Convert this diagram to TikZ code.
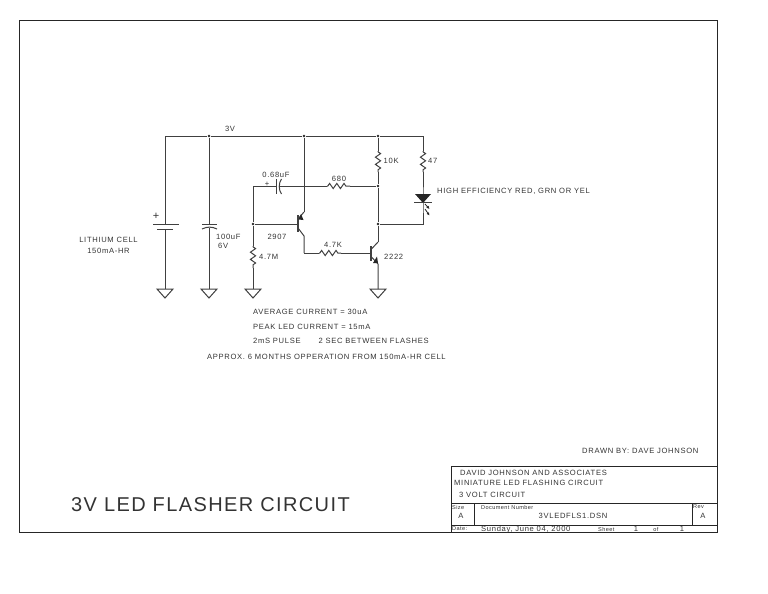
\documentclass[tikz,border=0pt]{standalone}
\usepackage{fontspec}
\setmainfont{Liberation Sans}[LetterSpace=9]
\newfontfamily\titlefont{Liberation Sans}[LetterSpace=7]
\usetikzlibrary{decorations.pathmorphing,arrows.meta}

\tikzset{
  wire/.style={line width=1pt,draw=black!75},
  res/.style={wire,decorate,decoration={zigzag,segment length=7.2pt,amplitude=2.6pt,pre length=0.8pt,post length=0.8pt}},
  lab/.style={inner sep=0pt,font=\fontsize{7.6}{8}\selectfont,text=black!80},
  tiny/.style={inner sep=0pt,font=\titlefont\fontsize{5.6}{6}\selectfont,text=black!80},
  dot/.style={circle,fill=black!85,inner sep=0pt,minimum size=2.8pt},
  frame/.style={line width=0.9pt,draw=black!85},
  gnd/.pic={\draw[wire] (-8,0) -- (8,0) -- (0,9) -- cycle;}
}

\begin{document}
\begin{tikzpicture}[x=1pt,y=-1pt]
  \useasboundingbox (0,0) rectangle (768,594);

  % sheet and title block
  \draw[frame] (19,20) rectangle (717,532);
  \draw[frame] (451,532) -- (451,466) -- (717,466);
  \draw[frame] (451,503) -- (717,503);
  \draw[frame] (451,525.5) -- (717,525.5);
  \draw[frame] (474,503) -- (474,525.5);
  \draw[frame] (692,503) -- (692,525.5);

  % rail and junctions
  \coordinate (batt) at (165,136);
  \node[dot] (jcap) at (209,136) {};
  \node[dot] (jemit) at (304,136) {};
  \node[dot] (jcoll) at (378,136) {};
  \coordinate (rail) at (423,136);
  \draw[wire] (batt) -- (jcap) -- (jemit) -- (jcoll) -- (rail);

  % battery
  \coordinate (battp) at (165,224);
  \coordinate (battn) at (165,229);
  \coordinate (gnda) at (165,289);
  \draw[wire] (batt) -- (battp);
  \draw[wire] (battn) -- (gnda);
  \draw[wire] (153,224) -- (179,224);
  \draw[wire] (157,229) -- (173,229);
  \pic at (gnda) {gnd};

  % 100uF
  \coordinate (capp) at (209,224);
  \coordinate (capn) at (209,228);
  \coordinate (gndb) at (209,289);
  \draw[wire] (jcap) -- (capp);
  \draw[wire] (capn) -- (gndb);
  \draw[wire] (202,224) -- (217,224);
  \draw[wire] (202,229) .. controls (207,226.5) and (212,226.5) .. (217,229);
  \pic at (gndb) {gnd};

  % 2907 base, 4.7M
  \node[dot] (jbase) at (253,224) {};
  \coordinate (cfb) at (253,186);
  \coordinate (rbt) at (253,246);
  \coordinate (rbb) at (253,268);
  \coordinate (gndc) at (253,289);
  \coordinate (base) at (298,224);
  \draw[wire] (jbase) -- (base);
  \draw[wire] (cfb) -- (jbase) -- (rbt);
  \draw[res] (rbt) -- (rbb);
  \draw[wire] (rbb) -- (gndc);
  \pic at (gndc) {gnd};

  % 0.68uF and 680
  \coordinate (cfa) at (276,186);
  \coordinate (cfc) at (279.5,186);
  \coordinate (rfa) at (327,186);
  \coordinate (rfb) at (350,186);
  \node[dot] (jfb) at (378,186) {};
  \draw[wire] (cfb) -- (cfa);
  \draw[wire] (276,179) -- (276,194);
  \draw[wire] (281.5,179) .. controls (278.5,183) and (278.5,190) .. (281.5,194);
  \draw[wire] (cfc) -- (rfa);
  \draw[res] (rfa) -- (rfb);
  \draw[wire] (rfb) -- (jfb);

  % 2907
  \coordinate (qpe) at (304,212);
  \coordinate (qpc) at (304,236);
  \coordinate (qpk) at (304,253);
  \draw[wire,line width=1.4pt] (298,215) -- (298,232);
  \draw[wire] (jemit) -- (qpe);
  \draw[wire] (298,219) -- (qpe);
  \draw[wire] (298,228) -- (qpc) -- (qpk);
  \fill[black!85] (298.5,219.5) -- (303.5,220) -- (301,214) -- cycle;

  % 4.7K
  \coordinate (rka) at (319,253);
  \coordinate (rkb) at (341,253);
  \coordinate (qnb) at (371,253);
  \draw[wire] (qpk) -- (rka);
  \draw[res] (rka) -- (rkb);
  \draw[wire] (rkb) -- (qnb);

  % 2222
  \coordinate (qnc) at (378,242);
  \coordinate (qne) at (378,264);
  \coordinate (gndd) at (378,289);
  \draw[wire,line width=1.4pt] (371,246) -- (371,261);
  \draw[wire] (371,249.5) -- (qnc);
  \draw[wire] (371,256.5) -- (qne) -- (gndd);
  \fill[black!85] (378,263) -- (373,263) -- (377,256.5) -- cycle;
  \pic at (gndd) {gnd};

  % 10K
  \coordinate (rta) at (378,151);
  \coordinate (rtb) at (378,172);
  \node[dot] (jled) at (378,224) {};
  \draw[wire] (jcoll) -- (rta);
  \draw[res] (rta) -- (rtb);
  \draw[wire] (rtb) -- (jfb) -- (jled) -- (qnc);

  % 47 and LED
  \coordinate (rla) at (423,151);
  \coordinate (rlb) at (423,172);
  \coordinate (led) at (423,202);
  \coordinate (ledb) at (423,224);
  \draw[wire] (rail) -- (rla);
  \draw[res] (rla) -- (rlb);
  \draw[wire] (rlb) -- (led) -- (ledb) -- (jled);
  \fill[black!85] (415,194) -- (431,194) -- (423,203) -- cycle;
  \draw[wire] (414,202.5) -- (432,202.5);
  \draw[line width=0.8pt,draw=black!85,-{Latex[length=3pt,width=3pt]}] (425,204) -- (429.5,209);
  \draw[line width=0.8pt,draw=black!85,-{Latex[length=3pt,width=3pt]}] (425,209) -- (429.5,215.5);

  % labels
  \node[lab] (vcc) at (230,129) {3V};
  \node[lab] (cell) at (108.5,240) {LITHIUM CELL};
  \node[lab] (mah) at (108.5,251) {150mA-HR};
  \node[lab,font=\fontsize{11}{11}\selectfont] (plusa) at (156,216) {+};
  \node[lab,anchor=west] (cval) at (216,237) {100uF};
  \node[lab,anchor=west] (cvolt) at (218,245.5) {6V};
  \node[lab] (cfval) at (276,175) {0.68uF};
  \node[lab] (plusb) at (267,184) {+};
  \node[lab] (rfval) at (339,178.5) {680};
  \node[lab,anchor=west] (rtval) at (383.5,161) {10K};
  \node[lab,anchor=west] (rlval) at (428,161) {47};
  \node[lab] (qpval) at (277,237) {2907};
  \node[lab,anchor=west] (rbval) at (259,257) {4.7M};
  \node[lab] (rkval) at (333,245) {4.7K};
  \node[lab,anchor=west] (qnval) at (384,257) {2222};
  \node[lab,anchor=west] (ledval) at (437,191) {HIGH EFFICIENCY RED, GRN OR YEL};
  \node[lab,anchor=west] (avg) at (253,312) {AVERAGE CURRENT = 30uA};
  \node[lab,anchor=west] (peak) at (253,326.5) {PEAK LED CURRENT = 15mA};
  \node[lab,anchor=west] (pulse) at (253,341) {2mS PULSE\hspace{18pt}2 SEC BETWEEN FLASHES};
  \node[lab,anchor=west] (opp) at (207,357) {APPROX. 6 MONTHS OPPERATION FROM 150mA-HR CELL};
  \node[lab,anchor=west,font=\titlefont\fontsize{20}{21}\selectfont] (title) at (71,505) {3V LED FLASHER CIRCUIT};
  \node[lab,anchor=west] (drawn) at (582,451) {DRAWN BY: DAVE JOHNSON};
  \node[lab,anchor=west] (coa) at (460,473) {DAVID JOHNSON AND ASSOCIATES};
  \node[lab,anchor=west] (cob) at (454,483) {MINIATURE LED FLASHING CIRCUIT};
  \node[lab,anchor=west] (coc) at (459,495) {3 VOLT CIRCUIT};
  \node[tiny,anchor=west] (size) at (452,507) {Size};
  \node[lab] (sizev) at (461,516) {A};
  \node[tiny,anchor=west] (docn) at (481,507) {Document Number};
  \node[lab] (docv) at (573,516) {3VLEDFLS1.DSN};
  \node[tiny,anchor=west] (rev) at (693,507) {Rev};
  \node[lab] (revv) at (703,516) {A};
  \node[tiny,anchor=west] (date) at (452,529) {Date:};
  \node[lab,anchor=west] (datev) at (481,529.6) {Sunday, June 04, 2000};
  \node[tiny,anchor=west] (sheet) at (598,529) {Sheet};
  \node[lab] (sheetv) at (636,529) {1};
  \node[tiny] (of) at (656,529) {of};
  \node[lab] (sheetn) at (682,529) {1};
\end{tikzpicture}
\end{document}
